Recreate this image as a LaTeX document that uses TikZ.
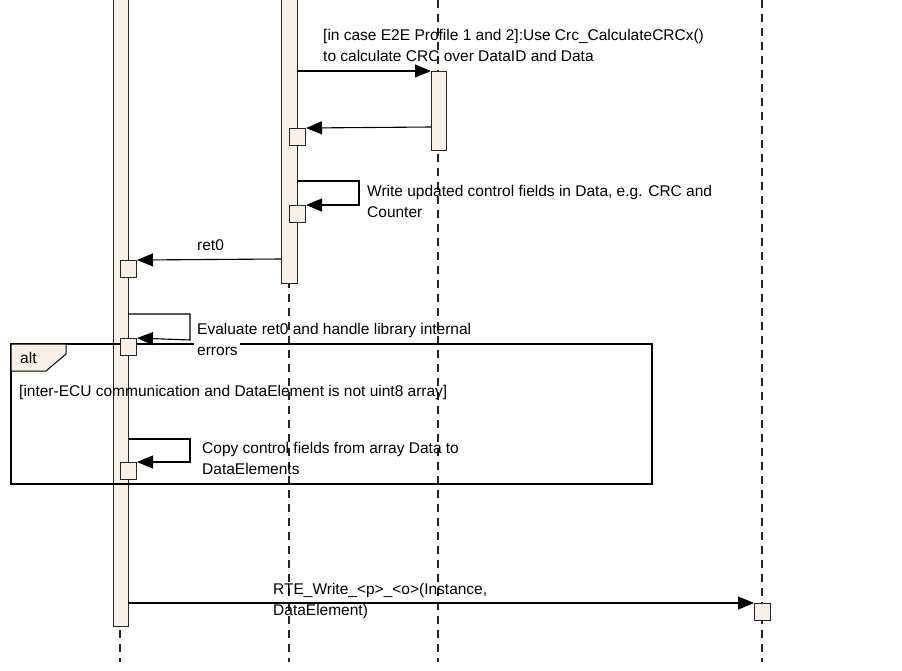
\documentclass[tikz,border=0pt]{standalone}
\usepackage{fontspec}
\setmainfont{Liberation Sans}
\usetikzlibrary{arrows.meta}
\definecolor{act}{HTML}{FAF1E6}
\begin{document}
\begin{tikzpicture}[x=1pt,y=-1pt,
  life/.style={draw=black!85,dash pattern=on 8pt off 6pt,line width=1.1pt},
  bar/.style={draw=black!85,fill=act,line width=1pt},
  msg/.style={draw=black,line width=1.1pt,-{Triangle[length=16pt,width=13pt]}},
  lbl/.style={font=\fontsize{15.5}{21}\selectfont,align=left,anchor=west,inner sep=1pt}]
\useasboundingbox (0,0) rectangle (902,670);
\draw[life] (120,0) -- (120,662);
\draw[life] (289,0) -- (289,662);
\draw[life] (438,0) -- (438,662);
\draw[life] (762,0) -- (762,662);
% bars
\draw[bar] (113,-2) rectangle (128,626);
\draw[bar] (281,-2) rectangle (297,283);
\draw[bar] (431,71) rectangle (446,150);
% boxes
\node[bar,minimum width=16pt,minimum height=17pt,inner sep=0,anchor=north west] (b1) at (289,128) {};
\node[bar,minimum width=16pt,minimum height=17pt,inner sep=0,anchor=north west] (b2) at (289,205) {};
\node[bar,minimum width=16pt,minimum height=17pt,inner sep=0,anchor=north west] (b3) at (120,260) {};
\node[bar,minimum width=16pt,minimum height=17pt,inner sep=0,anchor=north west] (b5) at (120,462) {};
\node[bar,minimum width=16pt,minimum height=17pt,inner sep=0,anchor=north west] (b6) at (754,603) {};
\coordinate (c1) at (297,71); \coordinate (c2) at (431,71);
\draw[msg] (c1) -- (c2);
\node[lbl] (t1) at (322,45) {[in case E2E Profile 1 and 2]:Use Crc\_CalculateCRCx()\\to calculate CRC over DataID and Data};
\coordinate (c3) at (431,127);
\draw[msg] (c3) -- (b1.north east);
\coordinate (c4) at (297,181);
\draw[msg] (c4) -- (359,181) -- (359,205) -- (b2.north east);
\node[lbl] (t2) at (366,201) {Write updated control fields in Data, e.g. CRC and\\Counter};
\coordinate (c5) at (281,259);
\draw[msg] (c5) -- (b3.north east);
\node[lbl] (t3) at (196,245) {ret0};
% alt frame
\draw[line width=1.1pt] (11,344) rectangle (652,484);
\draw[line width=1pt,fill=act] (11,344) -- (66,344) -- (66,354) -- (46,371) -- (11,371) -- cycle;
\node[lbl] (alt) at (19,358) {alt};
\node[lbl] (g) at (18,392) {[inter-ECU communication and DataElement is not uint8 array]};
\fill[white] (194,341) rectangle (240,347);
\node[lbl] (t4) at (196,339) {Evaluate ret0 and handle library internal\\errors};
\node[bar,minimum width=16pt,minimum height=17pt,inner sep=0,anchor=north west] (b4) at (120,338) {};
\coordinate (c6) at (128,314);
\draw[msg] (c6) -- (190,314) -- (190,340) -- (b4.north east);
\coordinate (c7) at (128,439);
\draw[msg] (c7) -- (190,439) -- (190,462) -- (b5.north east);
\node[lbl] (t5) at (201,458) {Copy control fields from array Data to\\DataElements};
\coordinate (c8) at (128,603);
\draw[msg] (c8) -- (b6.north west);
\node[lbl] (t6) at (272,601) {RTE\_Write\_<p>\_<o>(Instance,\\DataElement)};
\end{tikzpicture}
\end{document}
